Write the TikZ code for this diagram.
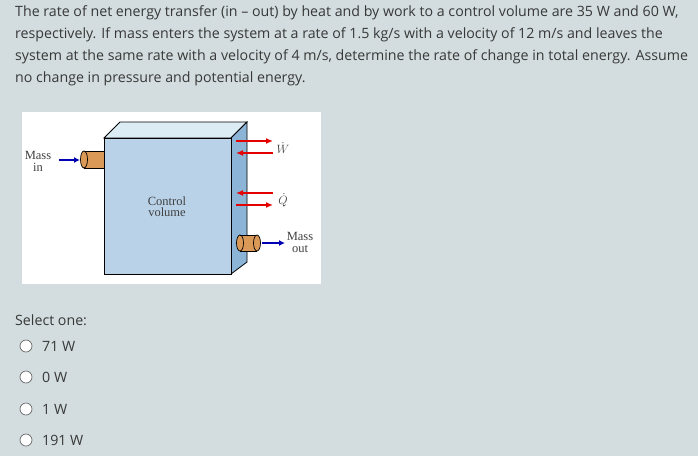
\documentclass[tikz,border=0pt]{standalone}
\usepackage{fontspec}
\usetikzlibrary{arrows.meta}
\setmainfont{Open Sans}
\newfontfamily\figfont{Liberation Serif}
\begin{document}
\begin{tikzpicture}[x=1pt,y=-1pt,
  txt/.style={anchor=west,inner sep=0pt,font=\fontsize{14.2}{16}\selectfont,text=black!78},
  ftxt/.style={inner sep=0pt,font=\figfont\fontsize{12.5}{13}\selectfont,text=black!75,align=center},
  heat/.style={red!90!black,line width=1.6pt,-{Latex[length=7pt,width=6pt]}},
  flow/.style={blue!70!black,line width=1.4pt,-{Latex[length=6pt,width=6pt]}},
  pipe/.style={fill=brown!70!orange!80,draw=black,line width=0.7pt},
  radio/.style={circle,draw=black!60,line width=0.7pt,minimum size=12pt,inner sep=0pt,fill=white}]
\useasboundingbox[fill={rgb,255:red,211;green,221;blue,224}] (0,0) rectangle (698,456);
\node[txt] (l1) at (15,13) {The rate of net energy transfer (in -- out) by heat and by work to a control volume are 35 W and 60 W,};
\node[txt] (l2) at (15,35) {respectively. If mass enters the system at a rate of 1.5 kg/s with a velocity of 12 m/s and leaves the};
\node[txt] (l3) at (15,57) {system at the same rate with a velocity of 4 m/s, determine the rate of change in total energy. Assume};
\node[txt] (l4) at (15,79) {no change in pressure and potential energy.};
\fill[white] (22,112) rectangle (321,284);
% box
\draw[fill={rgb,255:red,220;green,236;blue,245},line width=0.8pt] (104,138) -- (120,122) -- (247,122) -- (231,138) -- cycle;
\draw[fill={rgb,255:red,140;green,180;blue,215},line width=0.8pt] (231,138) -- (247,122) -- (247,262) -- (231,274) -- cycle;
\draw[fill={rgb,255:red,185;green,210;blue,232},line width=0.8pt] (104,138) rectangle (231,274);
\node[ftxt] (cv) at (167,207) {Control\\[-2pt]volume};
% inlet
\fill[brown!70!orange!80] (84,151) rectangle (104,168);
\draw[line width=0.7pt] (84,151) -- (104,151) (84,168) -- (104,168);
\draw[pipe] (84,159.5) ellipse[x radius=3.5pt,y radius=8.5pt];
\node[ftxt] (min) at (38,161) {Mass\\[-1pt]in};
\coordinate (a1) at (59,160); \coordinate (a2) at (80,160);
\draw[flow] (a1) -- (a2);
% outlet
\fill[brown!70!orange!80] (240,235) rectangle (257,251);
\draw[pipe] (240,243) ellipse[x radius=3.5pt,y radius=8pt];
\draw[line width=0.7pt] (240,235) -- (257,235) (240,251) -- (257,251);
\draw[pipe] (257,243) ellipse[x radius=3.5pt,y radius=8pt];
\node[ftxt] (mout) at (300,242) {Mass\\[-1pt]out};
\coordinate (b1) at (262,243); \coordinate (b2) at (285,243);
\draw[flow] (b1) -- (b2);
% heat & work
\node[ftxt] (W) at (283,148) {$\dot{W}$};
\node[ftxt] (Q) at (283,200) {$\dot{Q}$};
\coordinate (w1) at (236,141); \coordinate (w2) at (273,141);
\coordinate (w3) at (273,153); \coordinate (w4) at (236,153);
\coordinate (q1) at (273,193); \coordinate (q2) at (236,193);
\coordinate (q3) at (236,205); \coordinate (q4) at (273,205);
\draw[heat] (w1) -- (w2); \draw[heat] (w3) -- (w4);
\draw[heat] (q1) -- (q2); \draw[heat] (q3) -- (q4);
% options
\node[txt] (sel) at (15,320) {Select one:};
\node[radio] (r1) at (26,346) {}; \node[txt] (o1) at (42,346) {71 W};
\node[radio] (r2) at (26,377) {}; \node[txt] (o2) at (42,377) {0 W};
\node[radio] (r3) at (26,409) {}; \node[txt] (o3) at (42,409) {1 W};
\node[radio] (r4) at (26,440) {}; \node[txt] (o4) at (42,440) {191 W};
\end{tikzpicture}
\end{document}
